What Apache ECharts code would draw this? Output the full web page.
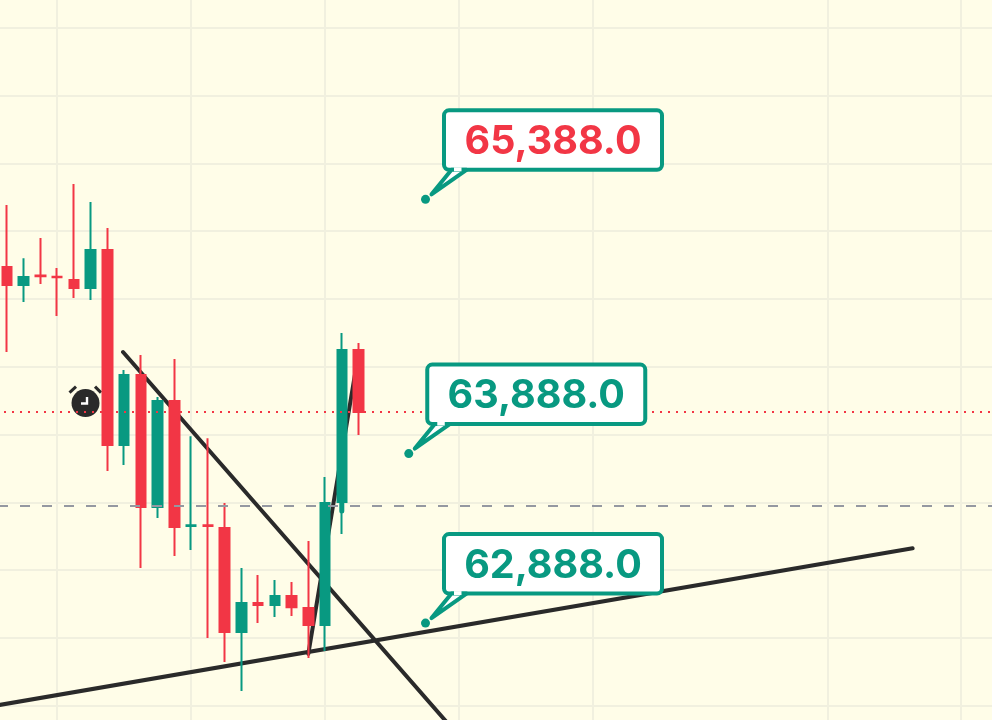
<!DOCTYPE html>
<html>
<head>
<meta charset="utf-8">
<style>html,body{margin:0;padding:0;background:#fffde8}#chart{width:992px;height:720px}</style>
<script src="https://cdn.jsdelivr.net/npm/echarts@6/dist/echarts.min.js"></script>
</head>
<body>
<div id="chart"></div>
<script>
const opens  = [64989,64883,64938,64932,64912,64865,65089,63939,64351,63573,64198,63461,63465,63449,62836,63006,62994,63048,62977,62877,63603,64499];
const closes = [64883,64930,64934,64928,64865,65089,63939,64351,63573,64198,63455,63465,63461,62836,63006,62994,63048,62982,62877,63597,64499,64133];
const lows   = [64487,64782,64889,64699,64806,64794,63785,63821,63213,63508,63284,63319,62800,62658,62487,62889,62924,62930,62682,62723,63413,63997];
const highs  = [65354,65041,65160,64983,65478,65372,65219,64381,64470,64222,64446,63991,63979,63597,63213,63172,63142,63130,63372,63750,64600,64541];
const barCount = 60;
const gridTicks = [3,11,19,27,35,49,57];
const calloutIndex = [25,24,25];
const calloutPrice = [65388,63888,62888];
const calloutLabel = ['65,388.0','63,888.0','62,888.0'];
const calloutColor = ['#f23645','#089981','#089981'];
const trendA = [[-0.5,62404],[54.1,63329]];
const trendB = [[6.93,64487],[26.68,62257]];
const trendC = [[18.0,62706],[20.85,64393]];
const wickStub = [[20,63603],[20,63549]];
const lastPrice = 64133;
const dashedPrice = 63579;
const alarmPoint = [4.69,64186];

const TEAL='#089981', RED='#f23645', INK='#2a2a2a', GRID='#f1f0df';
const categories = Array.from({length:barCount},(_,i)=>String(i));
const candles = opens.map((o,i)=>[o,closes[i],lows[i],highs[i]]);

function trend(data){
  return {type:'line',xAxisIndex:1,yAxisIndex:0,data,symbol:'none',silent:true,z:1,
    lineStyle:{color:INK,width:4,cap:'round'}};
}
function hline(price,color,dash,offset){
  return {type:'line',xAxisIndex:1,yAxisIndex:0,data:[[-0.5,price],[59.5,price]],symbol:'none',silent:true,z:5,
    lineStyle:{color,width:2,type:dash,dashOffset:offset}};
}
function renderCallout(params,api){
  const p=api.coord([api.value(0),api.value(1)]);
  const i=params.dataIndex, x=p[0], y=p[1];
  const bx=x+18.5, by=y-89, bw=218, bh=59.5;
  return {type:'group',children:[
    {type:'circle',shape:{cx:x,cy:y,r:4.5},style:{fill:TEAL}},
    {type:'rect',shape:{x:bx,y:by,width:bw,height:bh,r:5},style:{fill:'#fff',stroke:TEAL,lineWidth:4}},
    {type:'polygon',shape:{points:[[x+6,y-5],[x+26,y-29.5],[x+41,y-29.5]]},style:{fill:'#fff',stroke:TEAL,lineWidth:4,lineJoin:'round'}},
    {type:'line',shape:{x1:x+28.5,y1:y-30,x2:x+36,y2:y-30},style:{stroke:'#fff',lineWidth:4}},
    {type:'text',style:{x:bx+bw/2,y:by+bh/2+2,text:calloutLabel[i],fill:calloutColor[i],font:'700 39.5px Inter',textAlign:'center',textVerticalAlign:'middle'}}
  ]};
}
function renderAlarm(params,api){
  const p=api.coord([api.value(0),api.value(1)]);
  const x=p[0], y=p[1];
  return {type:'group',children:[
    {type:'circle',shape:{cx:x,cy:y,r:14},style:{fill:INK}},
    {type:'line',shape:{x1:x-16,y1:y-10.5,x2:x-9.5,y2:y-16.5},style:{stroke:INK,lineWidth:3}},
    {type:'line',shape:{x1:x+9.5,y1:y-16.5,x2:x+15.5,y2:y-10.5},style:{stroke:INK,lineWidth:3}},
    {type:'polyline',shape:{points:[[x+1.5,y-6],[x+1.5,y+0.5],[x-4.5,y+0.5]]},style:{stroke:'#fff',lineWidth:2.4,fill:null}}
  ]};
}

const chart=echarts.init(document.getElementById('chart'),null,{renderer:'canvas'});
chart.setOption({
  animation:false,
  backgroundColor:'#fffde8',
  grid:{left:-1.37,top:-40,width:1004.4,height:813.6,containLabel:false,outerBoundsMode:'none'},
  xAxis:[
    {type:'category',data:categories,boundaryGap:true,
     axisLine:{show:false},axisTick:{show:false},axisLabel:{show:false},
     splitLine:{show:true,alignWithLabel:true,interval:(i)=>gridTicks.includes(i),lineStyle:{color:GRID,width:2}}},
    {type:'value',min:-0.5,max:59.5,show:false,splitLine:{show:false}}
  ],
  yAxis:[{type:'value',min:62000,max:66800,interval:400,
     axisLine:{show:false},axisTick:{show:false},axisLabel:{show:false},
     splitLine:{show:true,lineStyle:{color:GRID,width:2}}}],
  series:[
    trend(trendA),trend(trendB),trend(trendC),
    {type:'custom',xAxisIndex:1,yAxisIndex:0,data:[alarmPoint],renderItem:renderAlarm,silent:true,z:1.5,clip:false,encode:{x:0,y:1}},
    {type:'line',xAxisIndex:1,yAxisIndex:0,data:wickStub,symbol:'none',silent:true,z:2,lineStyle:{color:TEAL,width:5,cap:'round'}},
    {type:'candlestick',xAxisIndex:0,yAxisIndex:0,data:candles,barWidth:10,z:3,silent:true,
     itemStyle:{color:TEAL,color0:RED,borderColor:TEAL,borderColor0:RED,borderWidth:2}},
    hline(dashedPrice,'#9598a1',[10,12],0.63),
    hline(lastPrice,RED,[2,6],2.63),
    {type:'custom',xAxisIndex:1,yAxisIndex:0,data:calloutIndex.map((x,i)=>[x,calloutPrice[i]]),renderItem:renderCallout,silent:true,z:6,clip:false,encode:{x:0,y:1}}
  ]
});
</script>
</body>
</html>
